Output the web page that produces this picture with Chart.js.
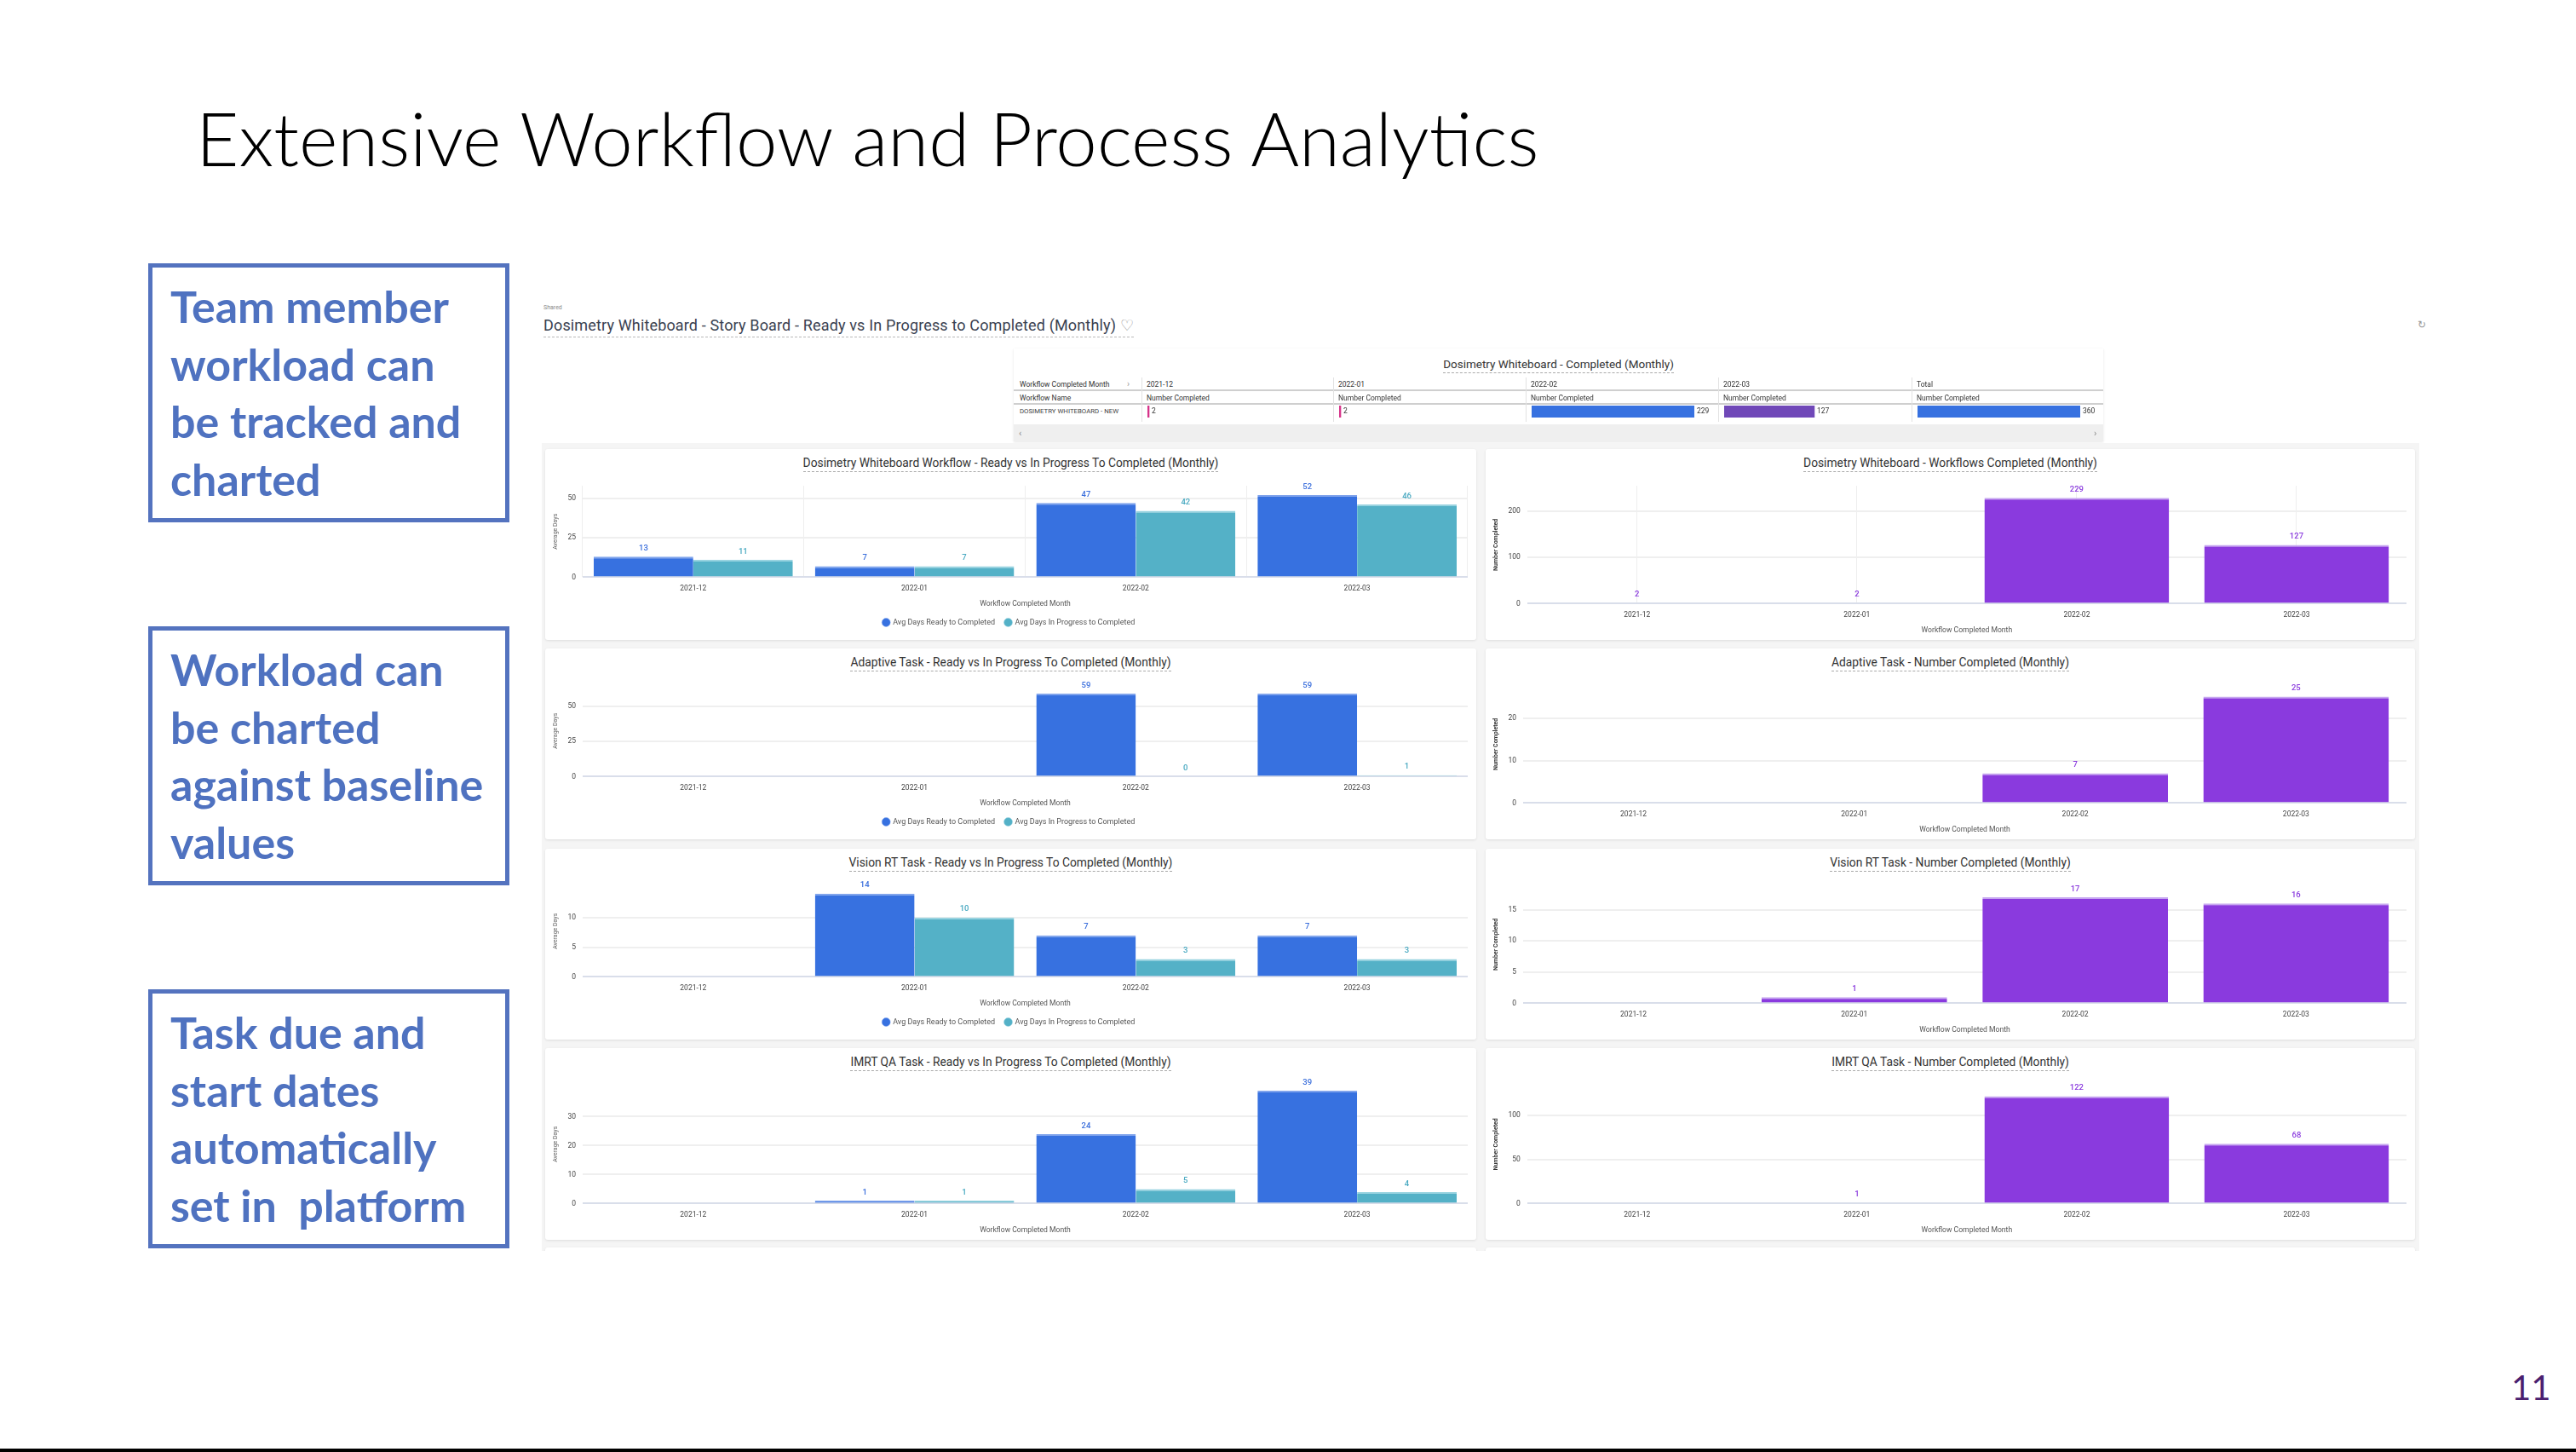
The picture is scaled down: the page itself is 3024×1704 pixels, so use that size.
<!DOCTYPE html>
<html>
<head>
<meta charset="utf-8">
<script src="https://cdn.jsdelivr.net/npm/chart.js@4.4.1/dist/chart.umd.min.js"></script>
<style>
body{margin:0;width:3024px;height:1704px;position:relative;background:#fff;overflow:hidden;font-family:Roboto,sans-serif}
.abs{position:absolute;white-space:nowrap}
#pageTitle{left:230px;top:109px;font:300 87px Lato,sans-serif;color:#000}
.note{position:absolute;left:174px;width:414px;height:294px;border:5px solid #5473bf}
.note div{position:absolute;left:21px;top:12px;font:700 52px/67.5px Lato,sans-serif;color:#4f72c0;white-space:pre}
#pageNum{left:2948px;top:1604px;font:400 40px Lato,sans-serif;color:#4b1f6f}
#bottomBar{left:0;top:1700px;width:3024px;height:4px;background:#000}
#shared{left:638px;top:357px;font-size:7px;color:#888}
#dashTitle{left:638px;top:371px;font-size:18px;color:#3a4150;border-bottom:1px dashed #b8b8b8;padding-bottom:3px;letter-spacing:0.15px}
#refresh{left:2838px;top:374px;font-size:12px;color:#999}
#grid{left:636px;top:520px;width:2204px;height:948px;background:#f5f5f5;overflow:hidden}
.card{position:absolute;background:#fff;border-radius:3px;box-shadow:0 1px 3px rgba(0,0,0,0.10)}
.ctitle{position:absolute;left:0;right:0;top:8px;text-align:center;font-size:13.8px;color:#333}
.ctitle span{border-bottom:1px dashed #aaa;padding-bottom:2px}
.card canvas{position:absolute;left:0;top:30px}
#tableCard{left:1190px;top:409px;width:1279px;height:109px;background:#fff;box-shadow:0 1px 3px rgba(0,0,0,0.10);position:absolute}
.tt{position:absolute;white-space:nowrap;font-size:8.5px;color:#333}
.sep{position:absolute;width:1px;background:#e2e2e2}
.hline{position:absolute;left:0;width:1279px;height:2px;background:#cfcfcf}
.cellbar{position:absolute}
</style>
</head>
<body>
<div id="pageTitle" class="abs">Extensive Workflow and Process Analytics</div>

<div class="note" style="top:309px"><div>Team member
workload can
be tracked and
charted</div></div>
<div class="note" style="top:735px"><div>Workload can
be charted
against baseline
values</div></div>
<div class="note" style="top:1161px"><div>Task due and
start dates
automatically
set in  platform</div></div>

<div id="shared" class="abs">Shared</div>
<div id="dashTitle" class="abs">Dosimetry Whiteboard - Story Board - Ready vs In Progress to Completed (Monthly) <span style="color:#999">♡</span></div>
<div id="refresh" class="abs">↻</div>

<div id="tableCard"></div>

<div id="grid" class="abs"></div>

<div id="pageNum" class="abs">11</div>
<div id="bottomBar" class="abs"></div>

<script>
// ---------- data ----------
const months = ["2021-12", "2022-01", "2022-02", "2022-03"];

const dosReady = [13, 7, 47, 52];
const dosInProgress = [11, 7, 42, 46];
const dosCompleted = [2, 2, 229, 127];

const adaReady = [null, null, 59, 59];
const adaInProgress = [null, null, 0, 1];
const adaCompleted = [null, null, 7, 25];

const visReady = [null, 14, 7, 7];
const visInProgress = [null, 10, 3, 3];
const visCompleted = [null, 1, 17, 16];

const imrtReady = [null, 1, 24, 39];
const imrtInProgress = [null, 1, 5, 4];
const imrtCompleted = [null, 1, 122, 68];

const pairTitles = [
  "Dosimetry Whiteboard Workflow -  Ready vs In Progress To Completed (Monthly)",
  "Adaptive Task - Ready vs In Progress To Completed (Monthly)",
  "Vision RT Task - Ready vs In Progress To Completed (Monthly)",
  "IMRT QA Task - Ready vs In Progress To Completed (Monthly)"
];
const countTitles = [
  "Dosimetry Whiteboard - Workflows Completed (Monthly)",
  "Adaptive Task - Number Completed (Monthly)",
  "Vision RT Task - Number Completed (Monthly)",
  "IMRT QA Task - Number Completed (Monthly)"
];
const pairTicks = [[0, 25, 50], [0, 25, 50], [0, 5, 10], [0, 10, 20, 30]];
const countTicks = [[0, 100, 200], [0, 10, 20], [0, 5, 10, 15], [0, 50, 100]];
const pairMax = [57.8, 65, 15.4, 41];
const countMax = [255, 27.7, 18.9, 135];

// table
const tableCols = ["2021-12", "2022-01", "2022-02", "2022-03", "Total"];
const tableCompleted = [2, 2, 229, 127, 360];
const tableColors = ["#d6338a", "#d6338a", "#3771e0", "#7048b8", "#3771e0"];

const seriesNames = ["Avg Days Ready to Completed", "Avg Days In Progress to Completed"];

// colours
const BLUE = "#3771e0", TEAL = "#54b1c7", PURPLE = "#8a3ade";

// ---------- value labels above bars ----------
const valueLabels = {
  id: "valueLabels",
  afterDatasetsDraw(chart) {
    const ctx = chart.ctx;
    chart.data.datasets.forEach((ds, i) => {
      const meta = chart.getDatasetMeta(i);
      meta.data.forEach((bar, j) => {
        const v = ds.data[j];
        if (v === null || v === undefined) return;
        ctx.save();
        ctx.fillStyle = ds.labelColor;
        ctx.font = "500 9.5px Roboto";
        ctx.textAlign = "center";
        ctx.textBaseline = "bottom";
        ctx.fillText(v, bar.x, bar.y - 5);
        ctx.restore();
      });
    });
  }
};

function chartOptions(yMax, ticks, yTitle, legend, gridX, gridOffset, boldY) {
  return {
    responsive: false,
    animation: false,
    layout: { padding: { left: 6, right: 10, top: 0, bottom: 4 } },
    plugins: {
      legend: {
        display: legend,
        position: "bottom",
        labels: { usePointStyle: true, pointStyle: "circle", boxWidth: 7, boxHeight: 7, padding: 12,
          font: { size: 9, family: "Roboto" }, color: "#555" }
      },
      tooltip: { enabled: false }
    },
    scales: {
      x: {
        grid: { display: gridX, offset: gridOffset, color: "#eeeeee", lineWidth: 1, drawTicks: false },
        border: { display: false },
        ticks: { font: { size: 8.5, family: "Roboto" }, color: "#444", padding: 8 },
        title: { display: true, text: "Workflow Completed Month", font: { size: 8.6, family: "Roboto" }, color: "#555", padding: { top: 0, bottom: 0 } }
      },
      y: {
        min: 0, max: yMax,
        afterBuildTicks(axis) { axis.ticks = ticks.map(v => ({ value: v })); },
        grid: { color: c => c.tick && c.tick.value === 0 ? "#d9deea" : "#efefef", lineWidth: 2, drawTicks: false },
        border: { display: false },
        ticks: { font: { size: 8.5, family: "Roboto" }, color: "#444", padding: 8 },
        title: { display: true, text: yTitle, font: { size: 7, family: "Roboto", weight: boldY ? "bold" : "normal" }, color: boldY ? "#333" : "#666", padding: 2 }
      }
    }
  };
}

const grid = document.getElementById("grid");
const rowTop = [7, 241, 476, 710];
const pairReady = [dosReady, adaReady, visReady, imrtReady];
const pairInProg = [dosInProgress, adaInProgress, visInProgress, imrtInProgress];
const counts = [dosCompleted, adaCompleted, visCompleted, imrtCompleted];

function makeCard(left, top, width, height, title) {
  const card = document.createElement("div");
  card.className = "card";
  card.style.left = left + "px"; card.style.top = top + "px";
  card.style.width = width + "px"; card.style.height = height + "px";
  if (title) {
    const t = document.createElement("div");
    t.className = "ctitle";
    t.innerHTML = "<span>" + title + "</span>";
    card.appendChild(t);
  }
  grid.appendChild(card);
  return card;
}

for (let r = 0; r < 4; r++) {
  const h = r === 3 ? 225 : 224;
  // left: ready vs in progress
  const lc = makeCard(4, rowTop[r], 1093, h, pairTitles[r]);
  const c1 = document.createElement("canvas");
  c1.width = 1093; c1.height = h - 32;
  lc.appendChild(c1);
  new Chart(c1, {
    type: "bar",
    data: {
      labels: months,
      datasets: [
        { label: seriesNames[0], data: pairReady[r], backgroundColor: BLUE, borderColor: "#7fa3ec",
          borderWidth: { top: 2, left: 0, right: 0, bottom: 0 }, borderSkipped: "bottom", labelColor: "#3b6fdc",
          categoryPercentage: 0.9, barPercentage: 1.0 },
        { label: seriesNames[1], data: pairInProg[r], backgroundColor: TEAL, borderColor: "#98d3e0",
          borderWidth: { top: 2, left: 0, right: 0, bottom: 0 }, borderSkipped: "bottom", labelColor: "#4aaac2",
          categoryPercentage: 0.9, barPercentage: 1.0 }
      ]
    },
    options: chartOptions(pairMax[r], pairTicks[r], "Average Days", r < 3, r === 0, true, false),
    plugins: [valueLabels]
  });

  // right: number completed
  const rc = makeCard(1108, rowTop[r], 1091, h, countTitles[r]);
  const c2 = document.createElement("canvas");
  c2.width = 1091; c2.height = h - 32;
  rc.appendChild(c2);
  new Chart(c2, {
    type: "bar",
    data: {
      labels: months,
      datasets: [
        { label: "Number Completed", data: counts[r], backgroundColor: PURPLE, borderColor: "#c6a6f0",
          borderWidth: { top: 2, left: 0, right: 0, bottom: 0 }, borderSkipped: "bottom", labelColor: "#8a3ade",
          categoryPercentage: 1.0, barPercentage: 0.84 }
      ]
    },
    options: chartOptions(countMax[r], countTicks[r], "Number Completed", false, r === 0, false, true),
    plugins: [valueLabels]
  });
}
// next row of cards, cut off at the bottom
makeCard(4, 944, 1093, 60, "");
makeCard(1108, 944, 1091, 60, "");

// ---------- table card ----------
const tc = document.getElementById("tableCard");
function tt(x, y, text, extra) {
  const d = document.createElement("div");
  d.className = "tt";
  d.style.left = x + "px"; d.style.top = y + "px";
  d.textContent = text;
  if (extra) Object.assign(d.style, extra);
  tc.appendChild(d);
  return d;
}
const tTitle = tt(0, 10, "", { left: "0", right: "0", textAlign: "center", fontSize: "13.5px" });
tTitle.innerHTML = '<span style="border-bottom:1px dashed #aaa;padding-bottom:2px">Dosimetry Whiteboard -  Completed (Monthly)</span>';

const colX = [156, 381, 607, 833, 1060];
tt(7, 37, "Workflow Completed Month", { fontSize: "8.5px" });
tt(133, 36, "›", { color: "#999", fontSize: "10px" });
tt(7, 53, "Workflow Name", { fontSize: "8.5px" });
tt(7, 69, "DOSIMETRY WHITEBOARD - NEW", { fontSize: "7.8px", color: "#444" });
const sepTop = document.createElement("div");
sepTop.className = "hline"; sepTop.style.top = "48px"; tc.appendChild(sepTop);
const sepMid = document.createElement("div");
sepMid.className = "hline"; sepMid.style.top = "64px"; tc.appendChild(sepMid);

const monthMax = Math.max(...tableCompleted.slice(0, 4));
tableCols.forEach((name, i) => {
  const x = colX[i];
  tt(x, 37, name, { fontSize: "8.5px" });
  tt(x, 53, "Number Completed", { fontSize: "8.5px" });
  const s = document.createElement("div");
  s.className = "sep";
  s.style.left = (x - 6) + "px"; s.style.top = "34px"; s.style.height = "52px";
  tc.appendChild(s);

  const cv = document.createElement("canvas");
  cv.className = "cellbar";
  cv.width = 225; cv.height = 15;
  cv.style.left = (x + 1) + "px"; cv.style.top = "67px";
  tc.appendChild(cv);
  const max = i === 4 ? tableCompleted[4] : monthMax;
  new Chart(cv, {
    type: "bar",
    data: { labels: [name], datasets: [{ data: [tableCompleted[i]], backgroundColor: tableColors[i],
      categoryPercentage: 1, barPercentage: 1, minBarLength: 2 }] },
    options: {
      indexAxis: "y", responsive: false, animation: false,
      layout: { padding: { left: 0, right: 34, top: 0, bottom: 1 } },
      plugins: { legend: { display: false }, tooltip: { enabled: false } },
      scales: { x: { display: false, min: 0, max: max }, y: { display: false } }
    },
    plugins: [{
      id: "cellValue",
      afterDatasetsDraw(chart) {
        const bar = chart.getDatasetMeta(0).data[0];
        const ctx = chart.ctx;
        ctx.save();
        ctx.fillStyle = "#333";
        ctx.font = "8.5px Roboto";
        ctx.textBaseline = "middle";
        ctx.fillText(tableCompleted[i], bar.x + 3, bar.y);
        ctx.restore();
      }
    }]
  });
});
// scrollbar strip
const strip = document.createElement("div");
strip.style.cssText = "position:absolute;left:0;top:89px;width:1279px;height:20px;background:#efefef";
tc.appendChild(strip);
tt(6, 93, "‹", { color: "#888", fontSize: "11px" });
tt(1268, 93, "›", { color: "#888", fontSize: "11px" });
</script>
</body>
</html>
